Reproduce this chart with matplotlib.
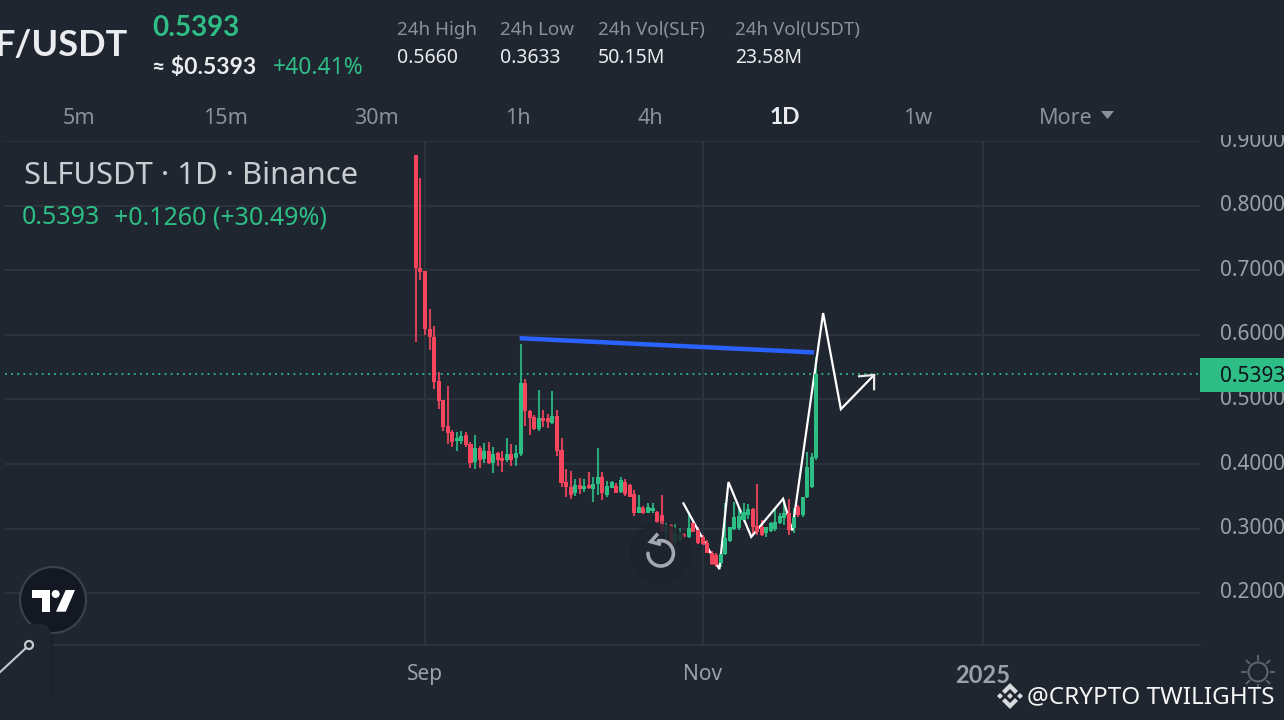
import numpy as np
import matplotlib
matplotlib.use("Agg")
import matplotlib.pyplot as plt
from matplotlib.patches import Rectangle, Circle, Polygon, FancyBboxPatch

plt.rcParams['font.family'] = ['Noto Sans', 'DejaVu Sans']
BOLD_FAMILY = ['Lato', 'Liberation Sans', 'DejaVu Sans']

# ---------- data ----------
first_day = -2  # days relative to 1 Sep 2024
opens = [.879,.704,.699,.609,.597,.529,.499,.459,.450,.436,.436,.445,.431,.403,.425,.408,.420,.401,.417,.409,.406,.415,.409,
         .415,.525,.482,.473,.454,.471,.471,.463,.474,.422,.372,.364,.355,.367,.361,.367,.361,.369,.380,.352,.363,.366,.356,
         .372,.367,.353,.324,.332,.324,.327,.325,.321,.296,.305,.279,.282,.291,.287,.308,.298,.287,.277,.262,.259,.246,.260,
         .280,.299,.301,.313,.321,.330,.304,.302,.293,.296,.299,.308,.316,.324,.301,.333,.321,.349,.364,.409]
highs = [.879,.843,.699,.640,.614,.543,.499,.521,.453,.450,.451,.450,.434,.445,.428,.432,.434,.426,.418,.420,.440,.431,.429,
         .586,.532,.483,.476,.515,.483,.477,.513,.483,.440,.392,.389,.377,.378,.377,.387,.380,.425,.387,.374,.374,.370,.380,
         .377,.369,.359,.352,.335,.339,.339,.327,.352,.308,.307,.307,.301,.293,.325,.310,.302,.290,.282,.265,.262,.263,.339,
         .302,.341,.333,.339,.338,.332,.369,.313,.302,.310,.332,.324,.344,.346,.332,.336,.349,.418,.417,.566]
lows = [.589,.685,.600,.577,.516,.485,.451,.431,.426,.420,.431,.426,.394,.392,.394,.401,.400,.386,.397,.387,.403,.397,.397,
        .412,.459,.445,.453,.451,.457,.456,.462,.412,.364,.349,.346,.350,.353,.356,.361,.341,.352,.344,.349,.363,.355,.355,
        .350,.349,.319,.324,.322,.324,.324,.308,.294,.282,.274,.274,.279,.285,.285,.294,.276,.274,.262,.243,.240,.240,.259,
        .279,.298,.298,.310,.315,.291,.290,.288,.287,.294,.296,.307,.305,.290,.293,.318,.318,.347,.363,.406]
closes = [.704,.698,.609,.597,.527,.497,.457,.448,.434,.440,.443,.429,.401,.425,.406,.420,.401,.415,.406,.404,.415,.406,.417,
          .525,.482,.471,.454,.471,.466,.465,.474,.420,.370,.364,.352,.367,.361,.366,.363,.369,.380,.355,.366,.372,.355,.375,
          .353,.349,.324,.333,.324,.333,.332,.310,.296,.302,.277,.293,.290,.287,.301,.294,.277,.276,.262,.245,.243,.260,.285,
          .302,.318,.319,.325,.330,.302,.294,.290,.302,.308,.310,.319,.324,.298,.318,.321,.349,.395,.411,.5393]
last_price = 0.5393
price_ticks = [0.2, 0.3, 0.4, 0.5, 0.6, 0.7, 0.8, 0.9]
date_ticks = [0, 61, 122.6]
date_labels = ['Sep', 'Nov', '2025']
trend_x = [20.8, 85.5]
trend_y = [.595, .573]
sketch_x = [56.8, 64.7, 66.7, 71.7, 78.7, 80.7, 87.5, 91.4, 98.7]
sketch_y = [.339, .237, .372, .287, .346, .297, .634, .485, .538]
head_x = [95.4, 98.7, 98.7]
head_y = [.536, .538, .516]
tabs = ['5m', '15m', '30m', '1h', '4h', '1D', '1w']
stats = [('24h High', '0.5660'), ('24h Low', '0.3633'), ('24h Vol(SLF)', '50.15M'), ('24h Vol(USDT)', '23.58M')]

# ---------- colours ----------
BG = '#1f2630'
GRID = '#2d333d'
GREEN = '#2ebd85'
RED = '#f6465d'
MUTED = '#8b919b'
AXIS_TXT = '#9ca1a9'
WHITE = '#eaecef'

W, H = 1284, 720
fig = plt.figure(figsize=(W/100, H/100), dpi=100, facecolor=BG)

# ---------- price pane ----------
ax = fig.add_axes([5/W, (H-645)/H, 1195/W, 510/H], facecolor=BG)
ax.set_xlim((5-425)/4.55, (1200-425)/4.55)
ax.set_ylim(0.2+(593-645)/645, 0.2+(593-135)/645)
for s in ['top', 'left', 'right']:
    ax.spines[s].set_visible(False)
ax.spines['bottom'].set_color(GRID)
ax.spines['bottom'].set_linewidth(1.5)
ax.yaxis.tick_right()
ax.set_yticks(price_ticks)
ax.set_yticklabels([f'{v:.4f}' for v in price_ticks])
ax.set_xticks(date_ticks)
ax.set_xticklabels(date_labels)
ax.tick_params(axis='y', length=0, pad=14.5, labelsize=15, labelcolor=AXIS_TXT)
for lab in ax.get_yticklabels():
    lab.set_y(lab.get_position()[1])
    lab.set_verticalalignment('center')
ax.tick_params(axis='x', length=0, pad=14, labelsize=15, labelcolor=AXIS_TXT)
bold_label = ax.get_xticklabels()[2]
bold_label.set_fontfamily(BOLD_FAMILY)
bold_label.set_fontweight('bold')
bold_label.set_fontsize(17)
ax.grid(True, color=GRID, linewidth=1.5)
ax.set_axisbelow(True)

days = np.arange(first_day, first_day + len(opens))
o, h, l, c = map(np.array, (opens, highs, lows, closes))
colors = [GREEN if ci >= oi else RED for oi, ci in zip(o, c)]
ax.vlines(days, l, h, colors=colors, linewidth=1.5, alpha=0.85, zorder=3)
ax.bar(days, np.abs(c-o), bottom=np.minimum(o, c), width=0.9, color=colors, linewidth=0, zorder=4)

ax.axhline(last_price, color=GREEN, linewidth=1.3, linestyle=(0, (1, 2.4)), zorder=2)
ax.plot(trend_x, trend_y, color='#2962ff', linewidth=3.2, solid_capstyle='butt', zorder=6)
ax.plot(sketch_x, sketch_y, color='white', linewidth=1.6, solid_joinstyle='miter', zorder=3.5)
ax.plot(head_x, head_y, color='#e8e8e8', linewidth=1.6, zorder=6)

# ---------- overlay (interface chrome) in pixel coordinates ----------
ov = fig.add_axes([0, 0, 1, 1], facecolor='none', zorder=5)
ov.set_xlim(0, W)
ov.set_ylim(H, 0)
ov.axis('off')

ov.add_patch(Rectangle((0, 0), 1200, 141, color=BG, lw=0))
ov.add_patch(Rectangle((1200, 0), 84, 135, color=BG, lw=0))

def T(x, y, s, size, color=WHITE, weight='normal', ha='left', va='center'):
    if weight == 'bold':
        return ov.text(x, y+2, s, fontsize=size, color=color, fontweight='bold', family=BOLD_FAMILY, ha=ha, va=va)
    return ov.text(x, y+2, s, fontsize=size, color=color, fontweight=weight, ha=ha, va=va)

# header
T(-6, 44, 'F/USDT', 26, WHITE, 'bold')
T(152, 26, '0.5393', 20, GREEN, 'bold')
T(152, 66, '≈ $0.5393', 16.5, WHITE, 'bold')
T(273, 66, '+40.41%', 16.5, GREEN)
for x, (label, val) in zip([397, 500, 598, 735], stats):
    T(x, 28, label, 13.5, MUTED)
    T(x, 56, val, 14, WHITE)

# interval tabs
for x, s in zip([79, 225, 376, 518, 650, 785, 918], tabs):
    if s == '1D':
        T(x, 116, s, 16.5, WHITE, 'bold', ha='center')
    else:
        T(x, 116, s, 15.5, MUTED, ha='center')
T(1039, 116, 'More', 15.5, MUTED)
ov.add_patch(Polygon([(1101, 111), (1114, 111), (1107.5, 119)], color=MUTED, lw=0))

# legend
T(24, 174, 'SLFUSDT · 1D · Binance', 22.3, '#c9ccd1')
T(22, 216, '0.5393', 18, GREEN)
T(114, 216, '+0.1260 (+30.49%)', 18, GREEN)

# last price tag
ov.add_patch(Rectangle((1200, 358), 84, 34, color=GREEN, lw=0))
T(1220, 374, '0.5393', 15, '#10151c')

# replay button
ov.add_patch(Circle((661, 552), 31, color='#181c25', alpha=0.25, lw=0))
ov.add_patch(Circle((661, 552), 28, color='#1f242e', alpha=0.82, lw=0))
t = np.radians(np.linspace(-100, 180, 80))
ov.plot(660.7+12.7*np.cos(t), 553.3+12.7*np.sin(t), color='#a3a7af', lw=2.6, solid_capstyle='round')
ov.plot([656.7, 650.7, 659.3], [535, 541.7, 544], color='#a3a7af', lw=2.6, solid_joinstyle='miter')

# tradingview badge
ov.add_patch(Circle((53, 600), 33, facecolor='#141823', edgecolor='#3b404b', lw=1.6))
ov.add_patch(Polygon([(31.7, 590), (50, 590), (50, 611.7), (41.7, 611.7), (41.7, 598.3), (31.7, 598.3)], color='white', lw=0))
ov.add_patch(Circle((55.7, 594), 4, color='white', lw=0))
ov.add_patch(Polygon([(65.7, 590), (75, 590), (65.7, 611.7), (56, 611.7)], color='white', lw=0))

# drawing tool panel
ov.add_patch(FancyBboxPatch((-30, 630), 84, 70, boxstyle='round,pad=0,rounding_size=10', fc='#1b2029', ec='none', alpha=0.6))
ov.add_patch(FancyBboxPatch((-30, 624), 80, 75, boxstyle='round,pad=0,rounding_size=10', fc='#20252f', ec='none'))
ov.plot([-2, 26], [674, 648], color='#c5c9d0', lw=1.5)
ov.add_patch(Circle((29, 645), 4, facecolor='#20252f', edgecolor='#c5c9d0', lw=1.6))

# settings sun
ov.add_patch(Circle((1258, 672), 9.5, facecolor='none', edgecolor='#5d636d', lw=1.5))
for a in np.radians(np.arange(0, 360, 45)):
    ov.plot([1258+12.5*np.cos(a), 1258+16*np.cos(a)], [672+12.5*np.sin(a), 672+16*np.sin(a)], color='#5d636d', lw=1.4)

# watermark
cx, cy = 1010, 696
WM = '#d8dadd'
ov.add_patch(Polygon([(cx, cy-13), (cx+8, cy-5), (cx+5, cy-2), (cx, cy-7), (cx-5, cy-2), (cx-8, cy-5)], color=WM, lw=0))
ov.add_patch(Polygon([(cx, cy+13), (cx+8, cy+5), (cx+5, cy+2), (cx, cy+7), (cx-5, cy+2), (cx-8, cy+5)], color=WM, lw=0))
ov.add_patch(Polygon([(cx, cy-3), (cx+3, cy), (cx, cy+3), (cx-3, cy)], color=WM, lw=0))
ov.add_patch(Polygon([(cx-10, cy-3), (cx-7, cy), (cx-10, cy+3), (cx-13, cy)], color=WM, lw=0))
ov.add_patch(Polygon([(cx+10, cy-3), (cx+13, cy), (cx+10, cy+3), (cx+7, cy)], color=WM, lw=0))
T(1027, 695, '@CRYPTO TWILIGHTS', 17.5, '#f5f5f5')

fig.savefig('out.png', dpi=100, facecolor=BG)
